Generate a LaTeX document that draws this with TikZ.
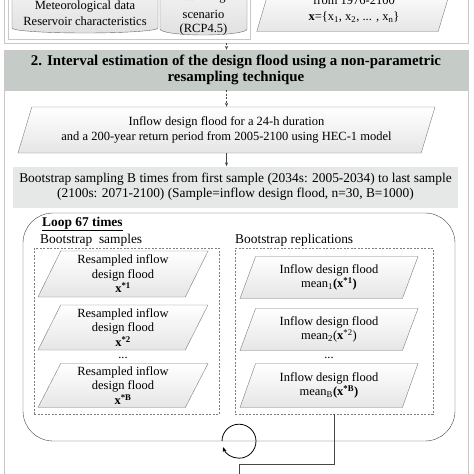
\documentclass[tikz,border=0pt]{standalone}
\usepackage{fontspec}
\setmainfont{Liberation Serif}
\usetikzlibrary{shapes.geometric,arrows.meta}

\definecolor{barFill}{RGB}{197,204,200}
\definecolor{bootFill}{RGB}{229,232,231}
\definecolor{shapeLine}{RGB}{125,125,125}
\definecolor{boxLine}{RGB}{200,200,200}
\definecolor{loopLine}{RGB}{70,70,70}

\def\fldColL{123}
\def\fldColR{329}

\begin{document}
\begin{tikzpicture}[x=1pt,y=-1pt,
    every node/.style={font=\fontsize{12.5}{14.5}\selectfont, inner sep=0pt},
    biglabel/.style={font=\fontsize{13.4}{15}\selectfont},
    secbox/.style={draw=boxLine, fill=white},
    headbar/.style={draw=boxLine, fill=barFill, align=center,
      font=\bfseries\fontsize{14.9}{15.5}\selectfont},
    bootstyle/.style={fill=bootFill, align=center,
      font=\fontsize{13.4}{15}\selectfont},
    datapara/.style 2 args={trapezium, trapezium left angle=#1,
      trapezium right angle=#2, trapezium stretches body=true,
      draw=shapeLine, top color=white, bottom color=black!10, align=center},
    dbshape/.style={draw=loopLine!80, top color=white, bottom color=black!12},
    groupbox/.style={draw=shapeLine, dash pattern=on 2pt off 1.5pt},
    looprect/.style={draw=loopLine, rounded corners=30pt},
    flowline/.style={draw=loopLine},
    dashflow/.style={draw=loopLine, dash pattern=on 2pt off 1.5pt,
      -{Stealth[length=4pt,width=3pt]}}
  ]
  \useasboundingbox (0,0) rectangle (474,474);
  \clip (0,0) rectangle (474,474);

  %% 1. input data
  \node (inputsec) [secbox, minimum width=464, minimum height=103] at (236,-8.5) {};
  \draw [secbox] (8,-55) rectangle (250,39);
  \draw [dbshape] (12,-40) -- (12,28)
    arc [start angle=180, end angle=360, x radius=73pt, y radius=5pt]
    -- (158,-40);
  \node (metdata) [align=center, font=\fontsize{12.5}{16}\selectfont]
    at (85,13.5) {Meteorological data\\Reservoir characteristics};
  \draw [dbshape] (160,-40) -- (160,29)
    arc [start angle=180, end angle=360, x radius=43.5pt, y radius=6pt]
    -- (247,-40);
  \node (rcpscen) [align=center] at (203.5,14) {warming\\[3pt]scenario\\(RCP4.5)};
  \node (obsflood) [datapara={64}{116}, minimum width=194.5, minimum height=44,
    font=\fontsize{12.5}{16}\selectfont]
    at (354,9.5) {from 1976-2100\\\textbf{x}=\{x\textsubscript{1}, x\textsubscript{2}, ... , x\textsubscript{n}\}};

  %% 2. interval estimation
  \draw [secbox] (4,90) rectangle (468,500);
  \node (intervalbar) [headbar, minimum width=464, minimum height=40] at (236,70)
    {2. Interval estimation of the design flood using a non-parametric\\resampling technique};
  \node (inflow) [datapara={62}{118}, minimum width=417, minimum height=46] at (226.5,130)
    {Inflow design flood for a 24-h duration\\and a 200-year return period from 2005-2100 using HEC-1 model};
  \node (bootsampling) [bootstyle, minimum width=445, minimum height=41] at (235.5,187)
    {Bootstrap sampling B times from first sample (2034s: 2005-2034) to last sample\\(2100s: 2071-2100) (Sample=inflow design flood, n=30, B=1000)};

  \draw [dashflow] (inputsec.south -| inflow.north) -- (intervalbar.north -| inflow.north);
  \draw [dashflow] (intervalbar.south -| inflow.north) -- (inflow.north);
  \draw [flowline, -{Stealth[length=4pt,width=3pt]}] (inflow.south) -- (inflow.south |- bootsampling.north);

  %% loop
  \node (loopframe) [looprect, minimum width=432, minimum height=228] at (239,327) {};
  \node (looptitle) [anchor=base west, biglabel] at (42,226) {\underline{\textbf{Loop 67 times}}};
  \node (samplabel) [anchor=base west, biglabel] at (40,243) {Bootstrap\ \ samples};
  \node (repllabel) [anchor=base west, biglabel] at (235,243) {Bootstrap replications};
  \node (sampbox) [groupbox, minimum width=185, minimum height=166] at (126.5,331) {};
  \node (replbox) [groupbox, minimum width=198, minimum height=166] at (334,331) {};

  %% bootstrap samples
  \node (resamp1) [datapara={59}{121}, minimum width=170, minimum height=46] at (\fldColL,274)
    {Resampled inflow\\design flood\\\textbf{x\textsuperscript{*1}}};
  \node (resamp2) [datapara={59}{121}, minimum width=170, minimum height=45] at (\fldColL,327.5)
    {Resampled inflow\\design flood\\\textbf{x\textsuperscript{*2}}};
  \node (sampdots) [anchor=base] at (\fldColL,358) {...};
  \node (resampB) [datapara={59}{121}, minimum width=170, minimum height=44] at (\fldColL,385.5)
    {Resampled inflow\\design flood\\\textbf{x\textsuperscript{*B}}};

  %% bootstrap replications
  \node (repl1) [datapara={59}{121}, minimum width=178, minimum height=42] at (\fldColR,277.5)
    {Inflow design flood\\mean\textsubscript{1}\textbf{(x\textsuperscript{*1})}};
  \node (repl2) [datapara={59}{121}, minimum width=178, minimum height=42] at (\fldColR,329.5)
    {Inflow design flood\\mean\textsubscript{2}(\textbf{x}\textsuperscript{*2})};
  \node (repldots) [anchor=base] at (\fldColR,358) {...};
  \node (replB) [datapara={59}{121}, minimum width=178, minimum height=44] at (\fldColR,385.5)
    {Inflow design flood\\mean\textsubscript{B}\textbf{(x\textsuperscript{*B})}};

  %% loop symbol and output
  \draw [draw=black, line width=0.8pt, -{Stealth[length=5pt,width=4pt]}]
    ([xshift=-17pt]loopframe.south)
    arc [start angle=180, end angle=-160, radius=17pt];
  \coordinate (bendpt) at (239,464);
  \coordinate (nextsec) at (239,482);
  \draw [flowline, line width=0.6pt] (replbox.south) |- (bendpt) -- (nextsec);
\end{tikzpicture}
\end{document}
